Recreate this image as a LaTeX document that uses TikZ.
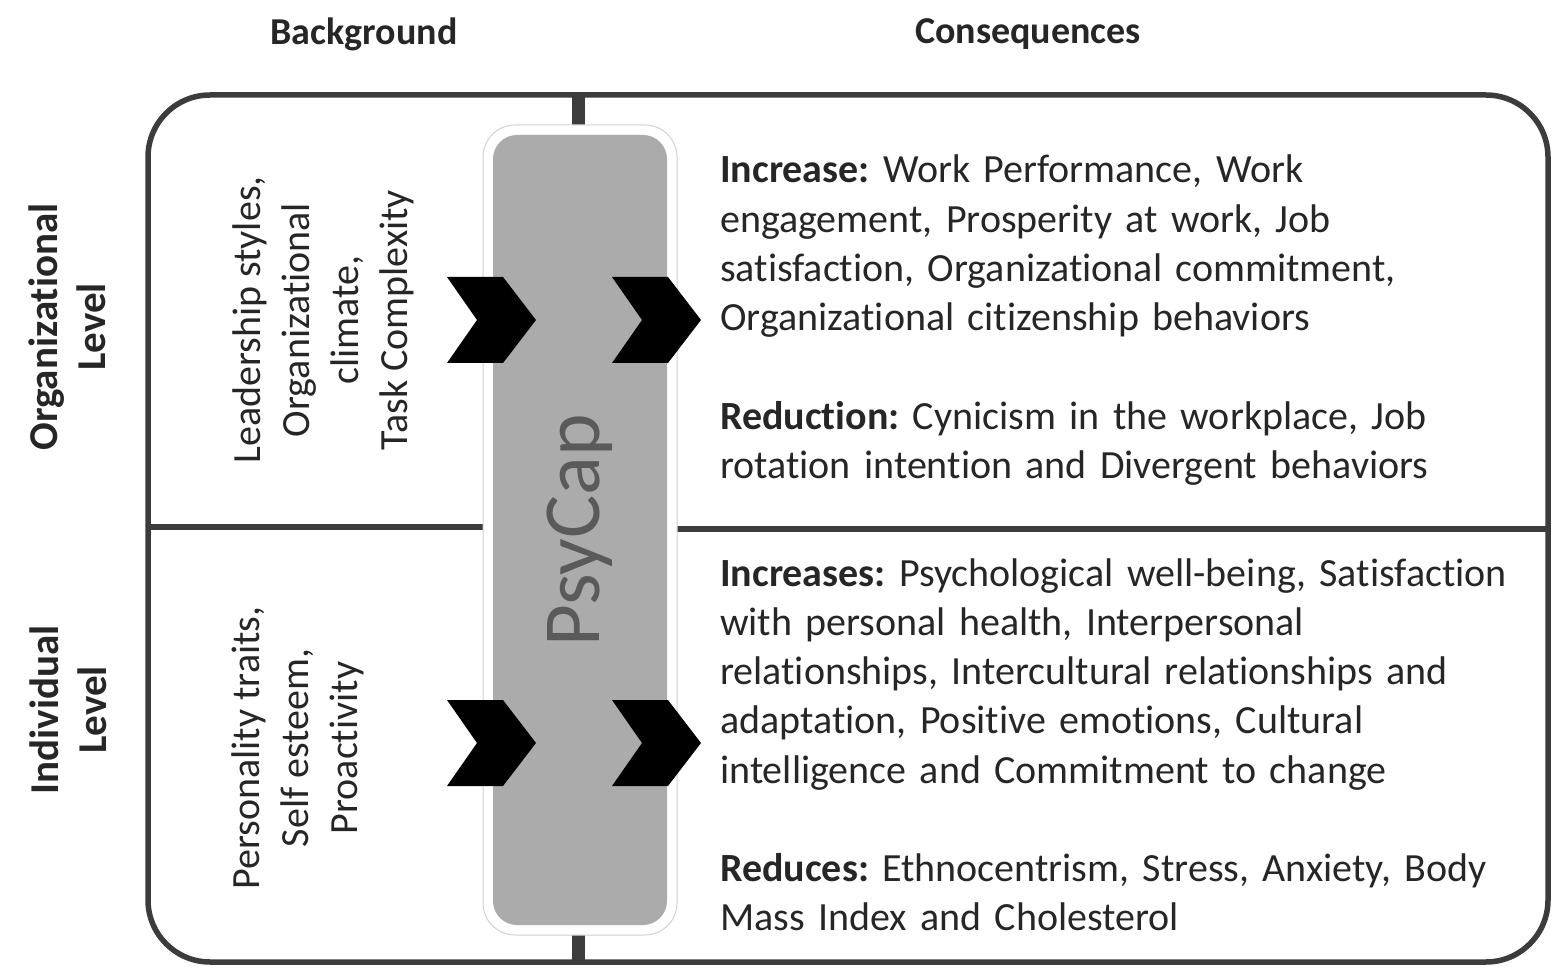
\documentclass[tikz,border=0pt]{standalone}
\usepackage{fontspec}
\setmainfont{Carlito}[Ligatures=NoCommon]
\usetikzlibrary{positioning}
\definecolor{framegray}{HTML}{3C3C3C}
\definecolor{capgray}{HTML}{ABABAB}
\definecolor{captext}{HTML}{5A5A5A}
\definecolor{inktext}{HTML}{262626}
\frenchspacing

\tikzset{
  frame/.style={draw=framegray, line width=5.5pt},
  header/.style={font=\fontsize{38}{44}\selectfont\bfseries, text=inktext},
  level/.style={rotate=90, align=center, font=\fontsize{41}{48}\selectfont\bfseries, text=inktext},
  cause/.style={rotate=90, align=center, font=\fontsize{40}{49}\selectfont, text=inktext},
  effect/.style={anchor=base west, text width=880pt, align=left, inner sep=0pt, font=\fontsize{40}{49.3}\selectfont, text=inktext},
  chev/.style={fill=black},
}

\begin{document}
\begin{tikzpicture}[x=1pt, y=-1pt]
    \useasboundingbox (0,0) rectangle (1564,976);
    % frame of both panels
    \draw[frame, rounded corners=62pt] (148,95) rectangle (1548,962);
    \coordinate (divL1) at (148,527);
    \coordinate (divL2) at (483,527);
    \coordinate (divR1) at (675,529);
    \coordinate (divR2) at (1548,529);
    \draw[frame] (divL1) -- (divL2);
    \draw[frame] (divR1) -- (divR2);
    \draw[framegray, line width=13pt] (578,95) -- (578,126);
    \draw[framegray, line width=13pt] (578,935) -- (578,962);

    % PsyCap column
    \node[draw=black!18, line width=1pt, fill=white, rounded corners=32pt,
          minimum width=194pt, minimum height=810pt] (psyback) at (580,530) {};
    \node[fill=capgray, rounded corners=24pt,
          minimum width=174pt, minimum height=790pt] (psycap) at (580,530) {};
    \node[rotate=90, font=\fontsize{81}{90}\selectfont, text=captext] (psytext) at (psycap.center) {PsyCap};

    % chevrons
    \foreach \cx/\cy in {447/277, 612/277, 447/700, 612/700}
      \fill[chev] (\cx,\cy) -- ++(56,0) -- ++(33,43) -- ++(-33,43) -- ++(-56,0) -- ++(30,-43) -- cycle;

    % headers and levels
    \node[header] (bg) at (364,34) {Background};
    \node[header] (cons) at (1028,34) {Consequences};
    \node[level] (org) at (67,327) {Organizational\\Level};
    \node[level] (ind) at (68,710) {Individual\\Level};

    % backgrounds
    \node[cause] (orgcause) at (323,320) {Leadership styles,\\Organizational\\climate,\\Task Complexity};
    \node[cause] (indcause) at (298,748) {Personality traits,\\Self esteem,\\Proactivity};

    % consequences
    \node[effect] (orginc) at (720,183) {\textbf{Increase:} Work Performance, Work\\engagement, Prosperity at work, Job\\satisfaction, Organizational commitment,\\Organizational citizenship behaviors};
    \node[effect] (orgred) at (720,429) {\textbf{Reduction:} Cynicism in the workplace, Job\\rotation intention and Divergent behaviors};
    \node[effect] (indinc) at (720,586) {\textbf{Increases:} Psychological well-being, Satisfaction\\with personal health, Interpersonal\\relationships, Intercultural relationships and\\adaptation, Positive emotions, Cultural\\intelligence and Commitment to change};
    \node[effect] (indred) at (720,881) {\textbf{Reduces:} Ethnocentrism, Stress, Anxiety, Body\\Mass Index and Cholesterol};
\end{tikzpicture}
\end{document}
